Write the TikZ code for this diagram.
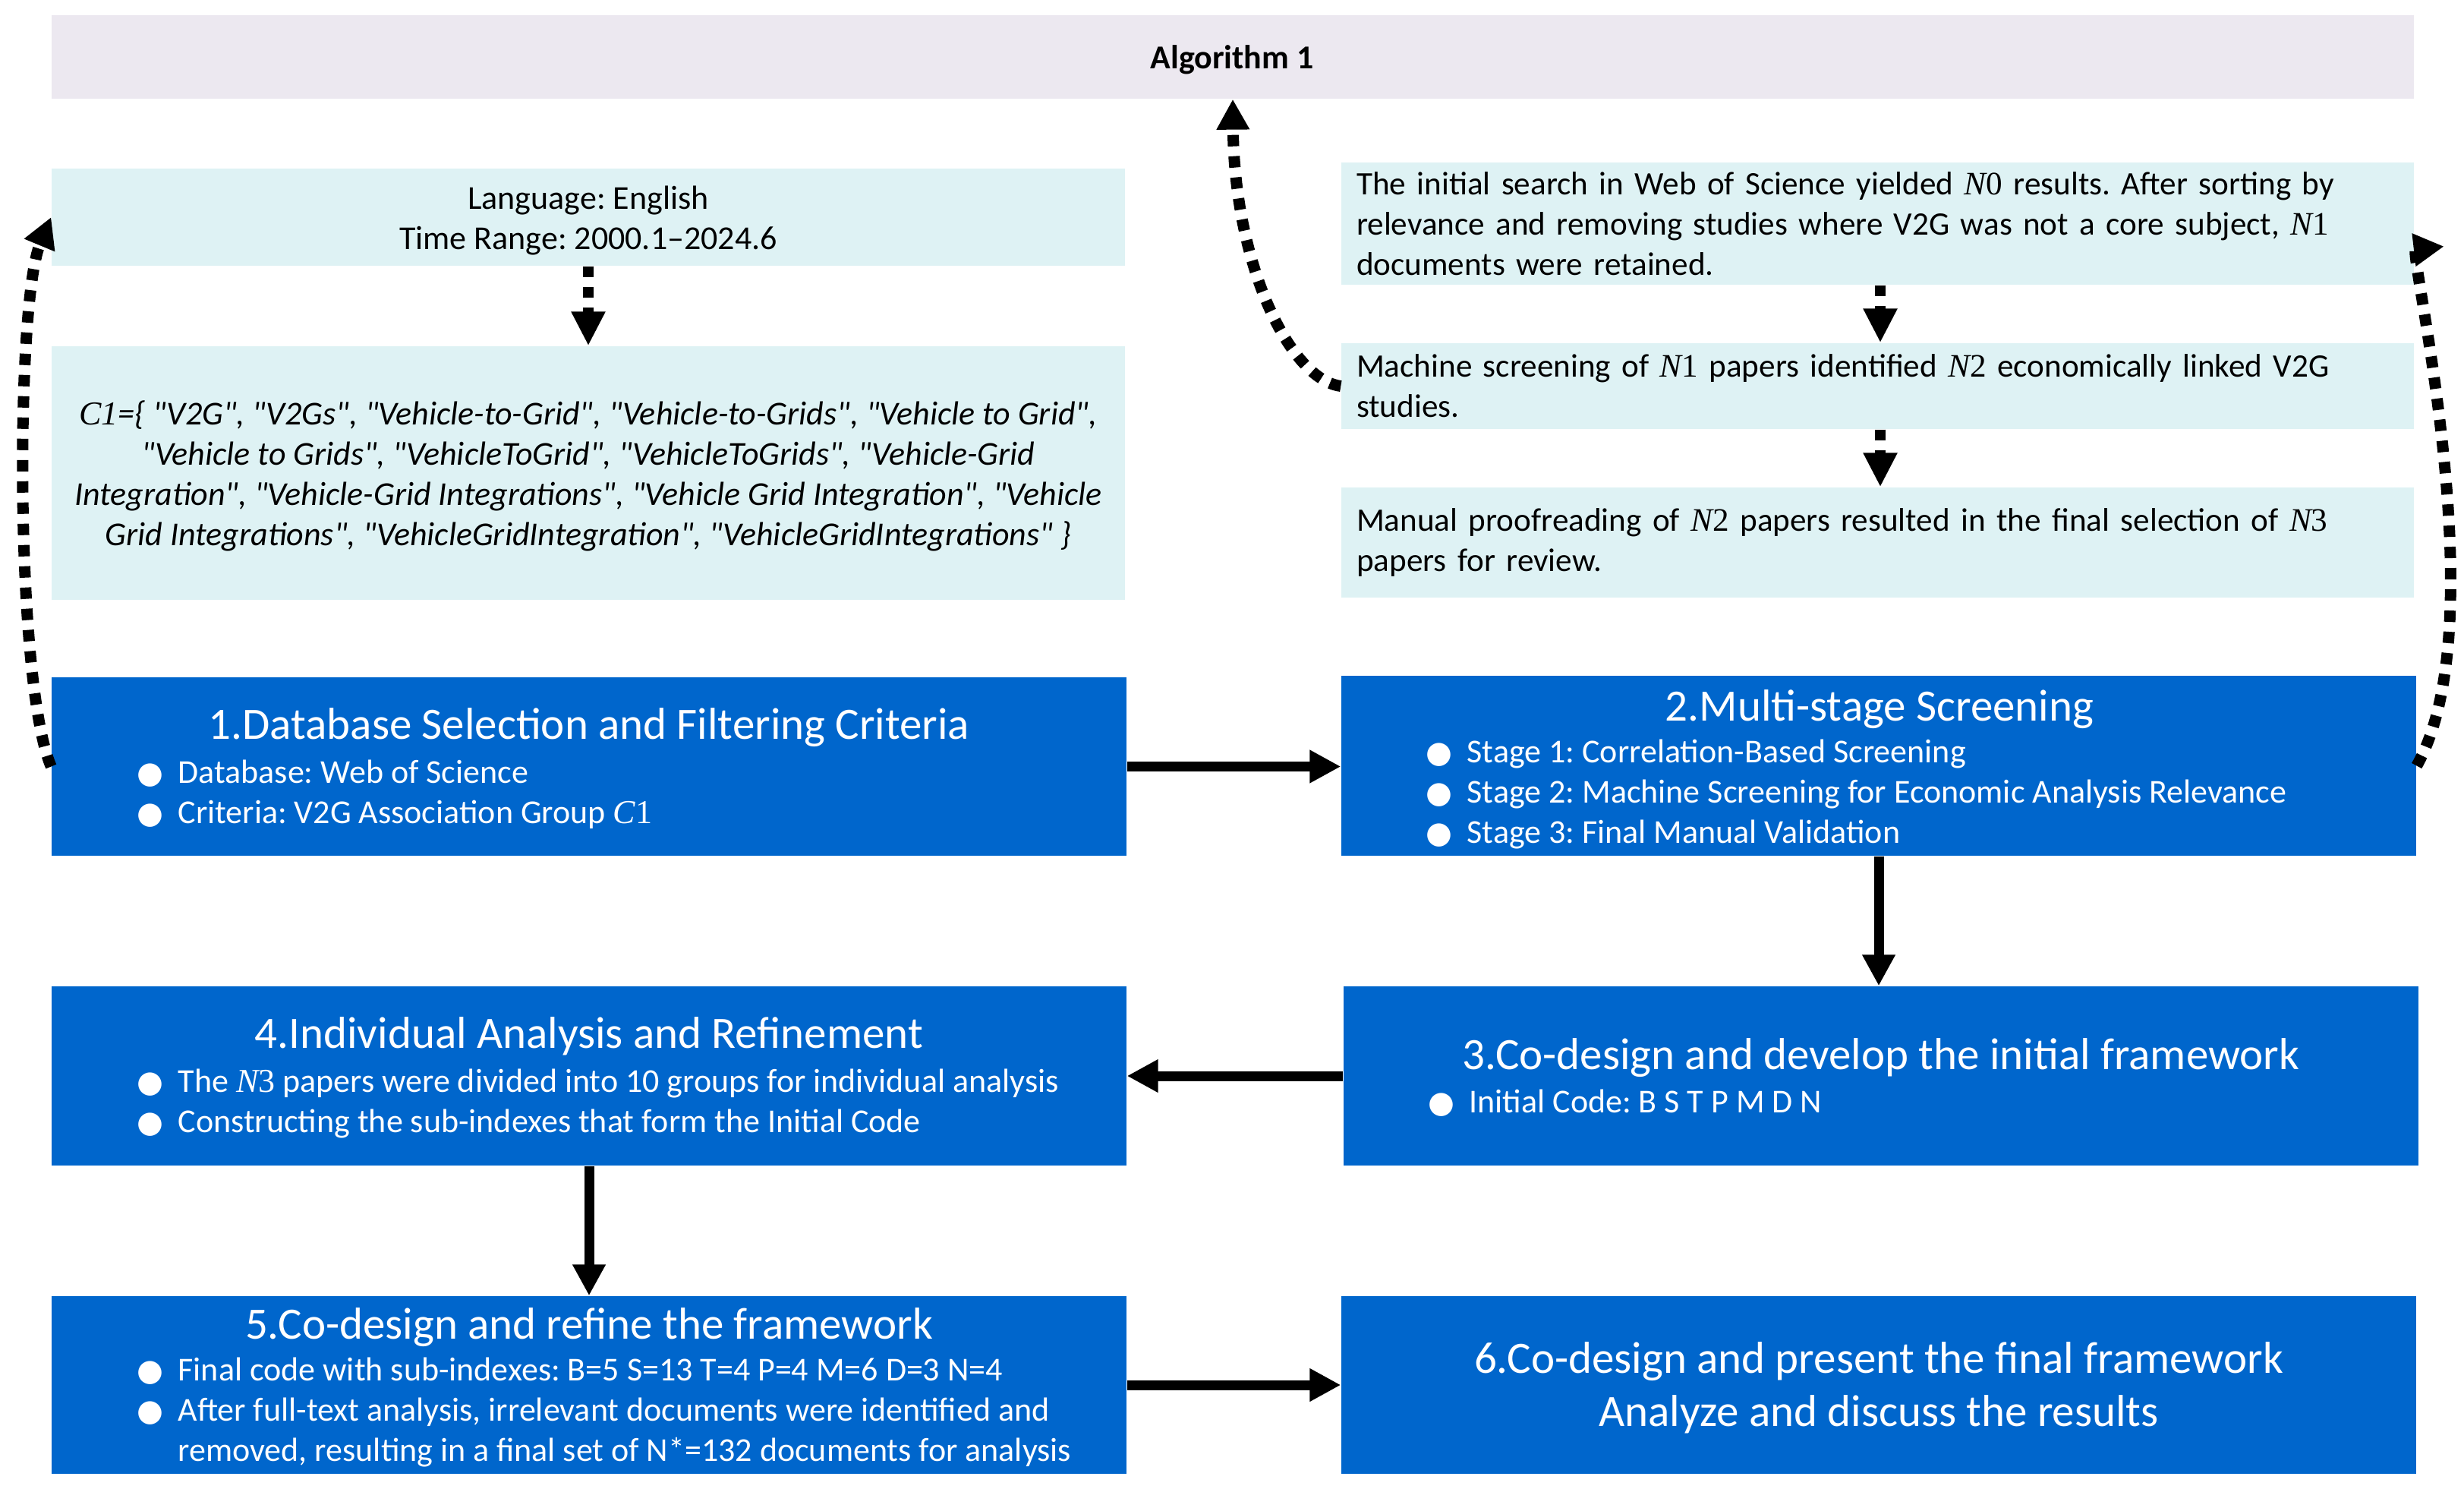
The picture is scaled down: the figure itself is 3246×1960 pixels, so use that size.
\documentclass[tikz,border=0pt]{standalone}
\usepackage{fontspec}
\setmainfont{Carlito}[Ligatures=TeXOff]
\newfontfamily\mfont{Liberation Serif}
\newfontfamily\bulfont{DejaVu Sans}
\usetikzlibrary{arrows.meta,calc}
\definecolor{boxblue}{RGB}{0,102,204}
\definecolor{lightcyan}{RGB}{222,242,244}
\definecolor{barlav}{RGB}{236,232,240}
\newcommand\vv[2]{{\mfont\itshape #1}{\mfont #2}}
\newcommand\bul{\makebox[16.2pt][l]{\bulfont\fontsize{12pt}{12pt}\selectfont ●}}
\newcommand\bulind{\hspace*{16.2pt}}
\newcommand\bodyfont{\fontsize{13.2pt}{15.9pt}\selectfont\frenchspacing}
\newcommand\rfont{\fontsize{12.95pt}{15.9pt}\selectfont\frenchspacing}
\newcommand\titlefont{\fontsize{17.7pt}{21pt}\selectfont}
\begin{document}
\begin{tikzpicture}[x=0.3pt,y=-0.3pt,
  topbar/.style={fill=barlav, inner sep=0, minimum width=933.6pt, minimum height=33pt},
  lightbox/.style={fill=lightcyan, inner sep=0, minimum width=424.2pt},
  plaintext/.style={inner sep=0, font=\bodyfont, align=center},
  rlight/.style={fill=lightcyan, inner xsep=6pt, inner ysep=0, text width=411.9pt, font=\rfont, align=left},
  bluebox/.style={fill=boxblue, inner sep=0, minimum width=424.8pt},
  titletext/.style={text=white, font=\titlefont, inner sep=0},
  bultext/.style={text=white, font=\bodyfont, align=left, inner sep=0, anchor=west},
  solidarrow/.style={line width=3.9pt, -{Triangle[length=12.3pt,width=12.3pt]}},
  dasharrow/.style={line width=4.2pt, dash pattern=on 4.2pt off 3.9pt, -{Triangle[length=13.5pt,width=12.6pt]}},
  dotarrow/.style={line width=4.5pt, dash pattern=on 4.5pt off 3.9pt, -{Triangle[length=12pt,width=12.3pt]}}
]
\useasboundingbox (0,0) rectangle (3246,1960);

% top bar
\node[topbar] (top) at (1624,75) {};
\node[plaintext] (toptxt) at (1623,79) {\bfseries Algorithm 1};

% left light boxes
\node[lightbox, minimum height=38.4pt] (lang) at (775,286) {};
\node[plaintext] (langtxt) at (775,290) {Language: English\\Time Range: 2000.1–2024.6};
\node[lightbox, minimum height=100.2pt] (cset) at (775,623) {};
\node[plaintext, font=\bodyfont\itshape] (csettxt) at (775,627) {\vv{C}{1}=\{ "V2G", "V2Gs", "Vehicle-to-Grid", "Vehicle-to-Grids", "Vehicle to Grid",\\
"Vehicle to Grids", "VehicleToGrid", "VehicleToGrids", "Vehicle-Grid\\
Integration", "Vehicle-Grid Integrations", "Vehicle Grid Integration", "Vehicle\\
Grid Integrations", "VehicleGridIntegration", "VehicleGridIntegrations" \}};

% right light boxes
\node[rlight, minimum height=48.3pt] (r1) at (2473.5,294.5) {The initial search in Web of Science yielded \vv{N}{0} results. After sorting by\\
relevance and removing studies where V2G was not a core subject, \vv{N}{1}\\
documents were retained.};
\node[rlight, minimum height=33.9pt] (r2) at (2473.5,508.5) {Machine screening of \vv{N}{1} papers identified \vv{N}{2} economically linked V2G\\
studies.};
\node[rlight, minimum height=43.5pt] (r3) at (2473.5,714.5) {Manual proofreading of \vv{N}{2} papers resulted in the final selection of \vv{N}{3}\\
papers for review.};

% blue boxes
\node[bluebox, minimum height=70.5pt] (b1) at (776,1009.5) {};
\node[titletext] (b1t) at (776,958) {1.Database Selection and Filtering Criteria};
\node[bultext] (b1l) at (180,1046) {\bul Database: Web of Science\\
\bul Criteria: V2G Association Group \vv{C}{1}};

\node[bluebox, minimum height=71.1pt] (b2) at (2475,1008.5) {};
\node[titletext] (b2t) at (2476,934) {2.Multi-stage Screening};
\node[bultext] (b2l) at (1878,1046) {\bul Stage 1: Correlation-Based Screening\\
\bul Stage 2: Machine Screening for Economic Analysis Relevance\\
\bul Stage 3: Final Manual Validation};

\node[bluebox, minimum height=70.8pt] (b3) at (2478,1417) {};
\node[titletext] (b3t) at (2478,1393) {3.Co-design and develop the initial framework};
\node[bultext] (b3l) at (1881,1453) {\bul Initial Code: B S T P M D N};

\node[bluebox, minimum height=70.8pt] (b4) at (776,1417) {};
\node[titletext] (b4t) at (776,1365) {4.Individual Analysis and Refinement};
\node[bultext] (b4l) at (180,1453.5) {\bul The \vv{N}{3} papers were divided into 10 groups for individual analysis\\
\bul Constructing the sub-indexes that form the Initial Code};

\node[bluebox, minimum height=70.2pt] (b5) at (776,1824) {};
\node[titletext] (b5t) at (776,1748) {5.Co-design and refine the framework};
\node[bultext] (b5l) at (180,1860) {\bul Final code with sub-indexes: B=5 S=13 T=4 P=4 M=6 D=3 N=4\\
\bul After full-text analysis, irrelevant documents were identified and\\
\bulind removed, resulting in a final set of N*=132 documents for analysis};

\node[bluebox, minimum height=70.2pt] (b6) at (2475,1824) {};
\node[titletext, align=center] (b6t) at (2475,1828) {6.Co-design and present the final framework\\Analyze and discuss the results};

% solid arrows
\draw[solidarrow] (b1.east) -- (b1.east -| b2.west);
\draw[solidarrow] (b2.south) -- (b2.south |- b3.north);
\draw[solidarrow] (b3.west) -- (b3.west -| b4.east);
\draw[solidarrow] (b4.south) -- (b5.north);
\draw[solidarrow] (b5.east) -- (b5.east -| b6.west);

% dashed arrows
\draw[dasharrow] (lang.south) -- (cset.north);
\draw[dasharrow] ($(r1.south)+(3.5,0)$) -- ($(r2.north)+(3.5,0)$);
\draw[dasharrow] ($(r2.south)+(3.5,0)$) -- ($(r3.north)+(3.5,0)$);

% dotted curved arrows
\draw[dotarrow] (b1.west) .. controls (20,900) and (20,400) .. (lang.west);
\draw[dotarrow] (r2.west) .. controls (1700,500) and (1626,350) .. (top.south);
\coordinate (rtip) at ($(r1.east)+(39,30)$);
\draw[dotarrow] (b2.east) .. controls (3290,820) and (3172,330) .. (rtip);
\end{tikzpicture}
\end{document}
